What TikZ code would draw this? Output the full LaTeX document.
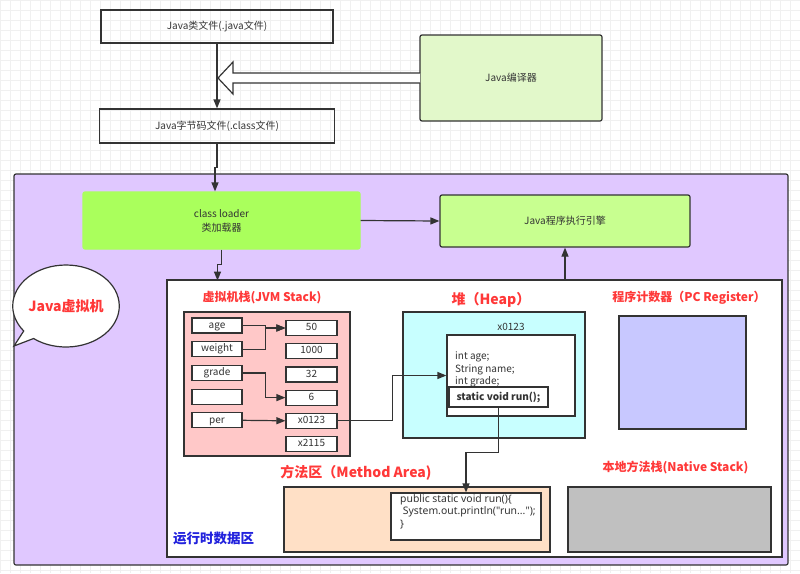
\documentclass[tikz,border=0pt]{standalone}
\usepackage{fontspec}
\setmainfont{Noto Sans CJK SC}
\newfontfamily\codefont{Noto Sans}
\usetikzlibrary{arrows.meta,positioning,shapes.callouts}
\definecolor{ink}{HTML}{333333}
\definecolor{cmpgreen}{HTML}{E2F8CA}
\definecolor{ldrgreen}{HTML}{AAFF5C}
\definecolor{enggreen}{HTML}{C8FF90}
\definecolor{jvmpurple}{HTML}{E0C8FF}
\definecolor{stkpink}{HTML}{FFC8C8}
\definecolor{heapcyan}{HTML}{C8FFFF}
\definecolor{pcblue}{HTML}{C8C8FF}
\definecolor{mthpeach}{HTML}{FFE0C6}
\definecolor{natgray}{HTML}{C0C0C0}
\definecolor{lblred}{HTML}{FF3838}
\definecolor{lblblue}{HTML}{2222DD}
\begin{document}
\begin{tikzpicture}[x=1pt, y=-1pt, node distance=7pt,
    gridln/.style = {draw=black!6, line width=0.5pt},
    box/.style = {draw=ink, line width=1.2pt, text=ink, inner sep=0pt, font=\fontsize{10}{12}\selectfont},
    cell/.style = {box, fill=white, minimum width=50pt, minimum height=15pt, text height=7.5pt, text depth=2pt},
    zone/.style = {draw=ink, line width=1.2pt, inner sep=0pt},
    title/.style = {text=lblred, inner sep=0pt, font=\bfseries\fontsize{12}{14}\selectfont},
    bigtitle/.style = {title, font=\bfseries\fontsize{14}{16}\selectfont},
    code/.style = {text=ink, inner sep=0pt, align=left, font=\fontsize{10}{12.5}\selectfont},
    arr/.style = {draw=ink, line width=1.2pt, -{Triangle[length=9pt,width=7pt]}},
    ln/.style = {draw=ink, line width=1.2pt}]
    \useasboundingbox (0,0) rectangle (800,573);
    \fill[white] (0,0) rectangle (800,573);
    \foreach \g in {0,10,...,800} \draw[gridln] (\g,0) -- (\g,573);
    \foreach \g in {0,10,...,570} \draw[gridln] (0,\g) -- (800,\g);

    % source and compiler
    \node[box, minimum width=232pt, minimum height=33pt] (src) at (217,26.5) {Java类文件(.java文件)};
    \node[box, fill=cmpgreen, rounded corners=2pt, minimum width=182pt, minimum height=86pt] (jc) at (511,78) {Java编译器};
    \node[box, minimum width=235pt, minimum height=34pt] (cls) at (217,126) {Java字节码文件(.class文件)};
    \draw[arr] (src) -- (cls);
    \draw[ln, fill=white] (420,73) -- (233,73) -- (233,62) -- (218,78) -- (233,94) -- (233,83) -- (420,83);

    % jvm
    \node[zone, fill=jvmpurple, rounded corners=2pt, minimum width=774pt, minimum height=391pt] (jvm) at (401,369.5) {};
    \node[box, draw=ldrgreen, fill=ldrgreen, rounded corners=2pt, minimum width=277pt, minimum height=57pt, align=center, font=\fontsize{10}{14}\selectfont] (ldr) at (221.5,220.5) {class loader\\类加载器};
    \node[box, fill=enggreen, rounded corners=2pt, minimum width=250pt, minimum height=52pt] (eng) at (565,221) {Java程序执行引擎};
    \node[zone, fill=white, minimum width=615pt, minimum height=277pt] (rt) at (474.5,418.5) {};
    \node[ellipse callout, draw=ink, fill=white, line width=1.2pt, minimum width=106pt, minimum height=82pt, inner sep=0pt,
        callout absolute pointer={(14,346)}, bigtitle] (vm) at (66,306) {Java虚拟机};
    \draw[arr] (cls.south) -- ++(0,24) -- ++(-2,0) -- (ldr.north -| 215,0);
    \draw[arr] (ldr.east) -- (eng.west);
    \draw[arr] (ldr.south) -- ++(0,15) -- ++(-4,0) -- ++(0,16);
    \draw[arr] (rt.north -| eng.south) -- (eng.south);
    \node[inner sep=0pt, text=lblblue, font=\bfseries\fontsize{13.5}{15}\selectfont] (rtl) at (213.5,538) {运行时数据区};

    % jvm stack
    \node[title] (stk) at (262,298) {虚拟机栈(JVM Stack)};
    \node[zone, fill=stkpink, minimum width=166pt, minimum height=144pt] (pk) at (267,384) {};
    \node[cell] (age) at (217,325.5) {age};
    \node[cell, below=7.5pt of age] (wt) {weight};
    \node[cell, below=7.5pt of wt] (gr) {grade};
    \node[cell, below=7.5pt of gr] (emp) {};
    \node[cell, below=7.5pt of emp] (per) {per};
    \node[cell, minimum width=51pt] (v50) at (311.5,328) {50};
    \node[cell, minimum width=51pt, below=of v50] (v1000) {1000};
    \node[cell, minimum width=51pt, below=of v1000] (v32) {32};
    \node[cell, minimum width=51pt, below=of v32] (v6) {6};
    \node[cell, minimum width=51pt, below=of v6] (vx) {x0123};
    \node[cell, minimum width=51pt, below=of vx] (vy) {x2115};
    \draw[arr] (age.east) -- ++(23,0) |- (v50.west);
    \draw[arr] (wt.east) -- ++(23,0) |- (v50.west);
    \draw[arr] (gr.east) -- ++(23,0) |- (v6.west);
    \draw[arr] (per.east) -- (vx.west);

    % heap
    \node[bigtitle] (hp) at (491,300) {堆（Heap）};
    \node[zone, fill=heapcyan, minimum width=182pt, minimum height=126pt] (heap) at (494,375) {};
    \node[zone, fill=white, minimum width=128pt, minimum height=81pt] (obj) at (511,375.5) {};
    \node[box, draw=none, above=3pt of obj] (addr) {x0123};
    \node[code, anchor=north west] (fld) at (455,352) {int age;\\String name;\\int grade;};
    \node[box, fill=white, minimum width=99pt, minimum height=20pt, font=\bfseries\fontsize{10}{12}\selectfont] (run) at (498.5,397) {static void run();};
    \draw[arr] (vx.east) -- ++(55,0) |- (obj.west);

    % pc register
    \node[title] (pcl) at (689,298) {程序计数器（PC Register）};
    \node[zone, fill=pcblue, minimum width=127pt, minimum height=113pt] (pc) at (682.5,372.5) {};

    % method area
    \node[bigtitle] (mal) at (356,473) {方法区（Method Area)};
    \node[zone, fill=mthpeach, minimum width=266pt, minimum height=65pt] (ma) at (417,519.5) {};
    \node[zone, fill=white, minimum width=150pt, minimum height=47pt] (mcode) at (466,516.5) {};
    \node[code, anchor=north west, font=\codefont\fontsize{10.4}{12.5}\selectfont] (src2) at (400,494) {public static void run()\{\\ \ System.out.println(\char34\relax run...\char34\relax);\\\}};
    \draw[arr] (run.south) -- ++(0,45) -| (mcode.north);

    % native stack
    \node[title] (nsl) at (675.5,467) {本地方法栈(Native Stack)};
    \node[zone, fill=natgray, minimum width=203pt, minimum height=65pt] (ns) at (669.5,519.5) {};
\end{tikzpicture}
\end{document}
